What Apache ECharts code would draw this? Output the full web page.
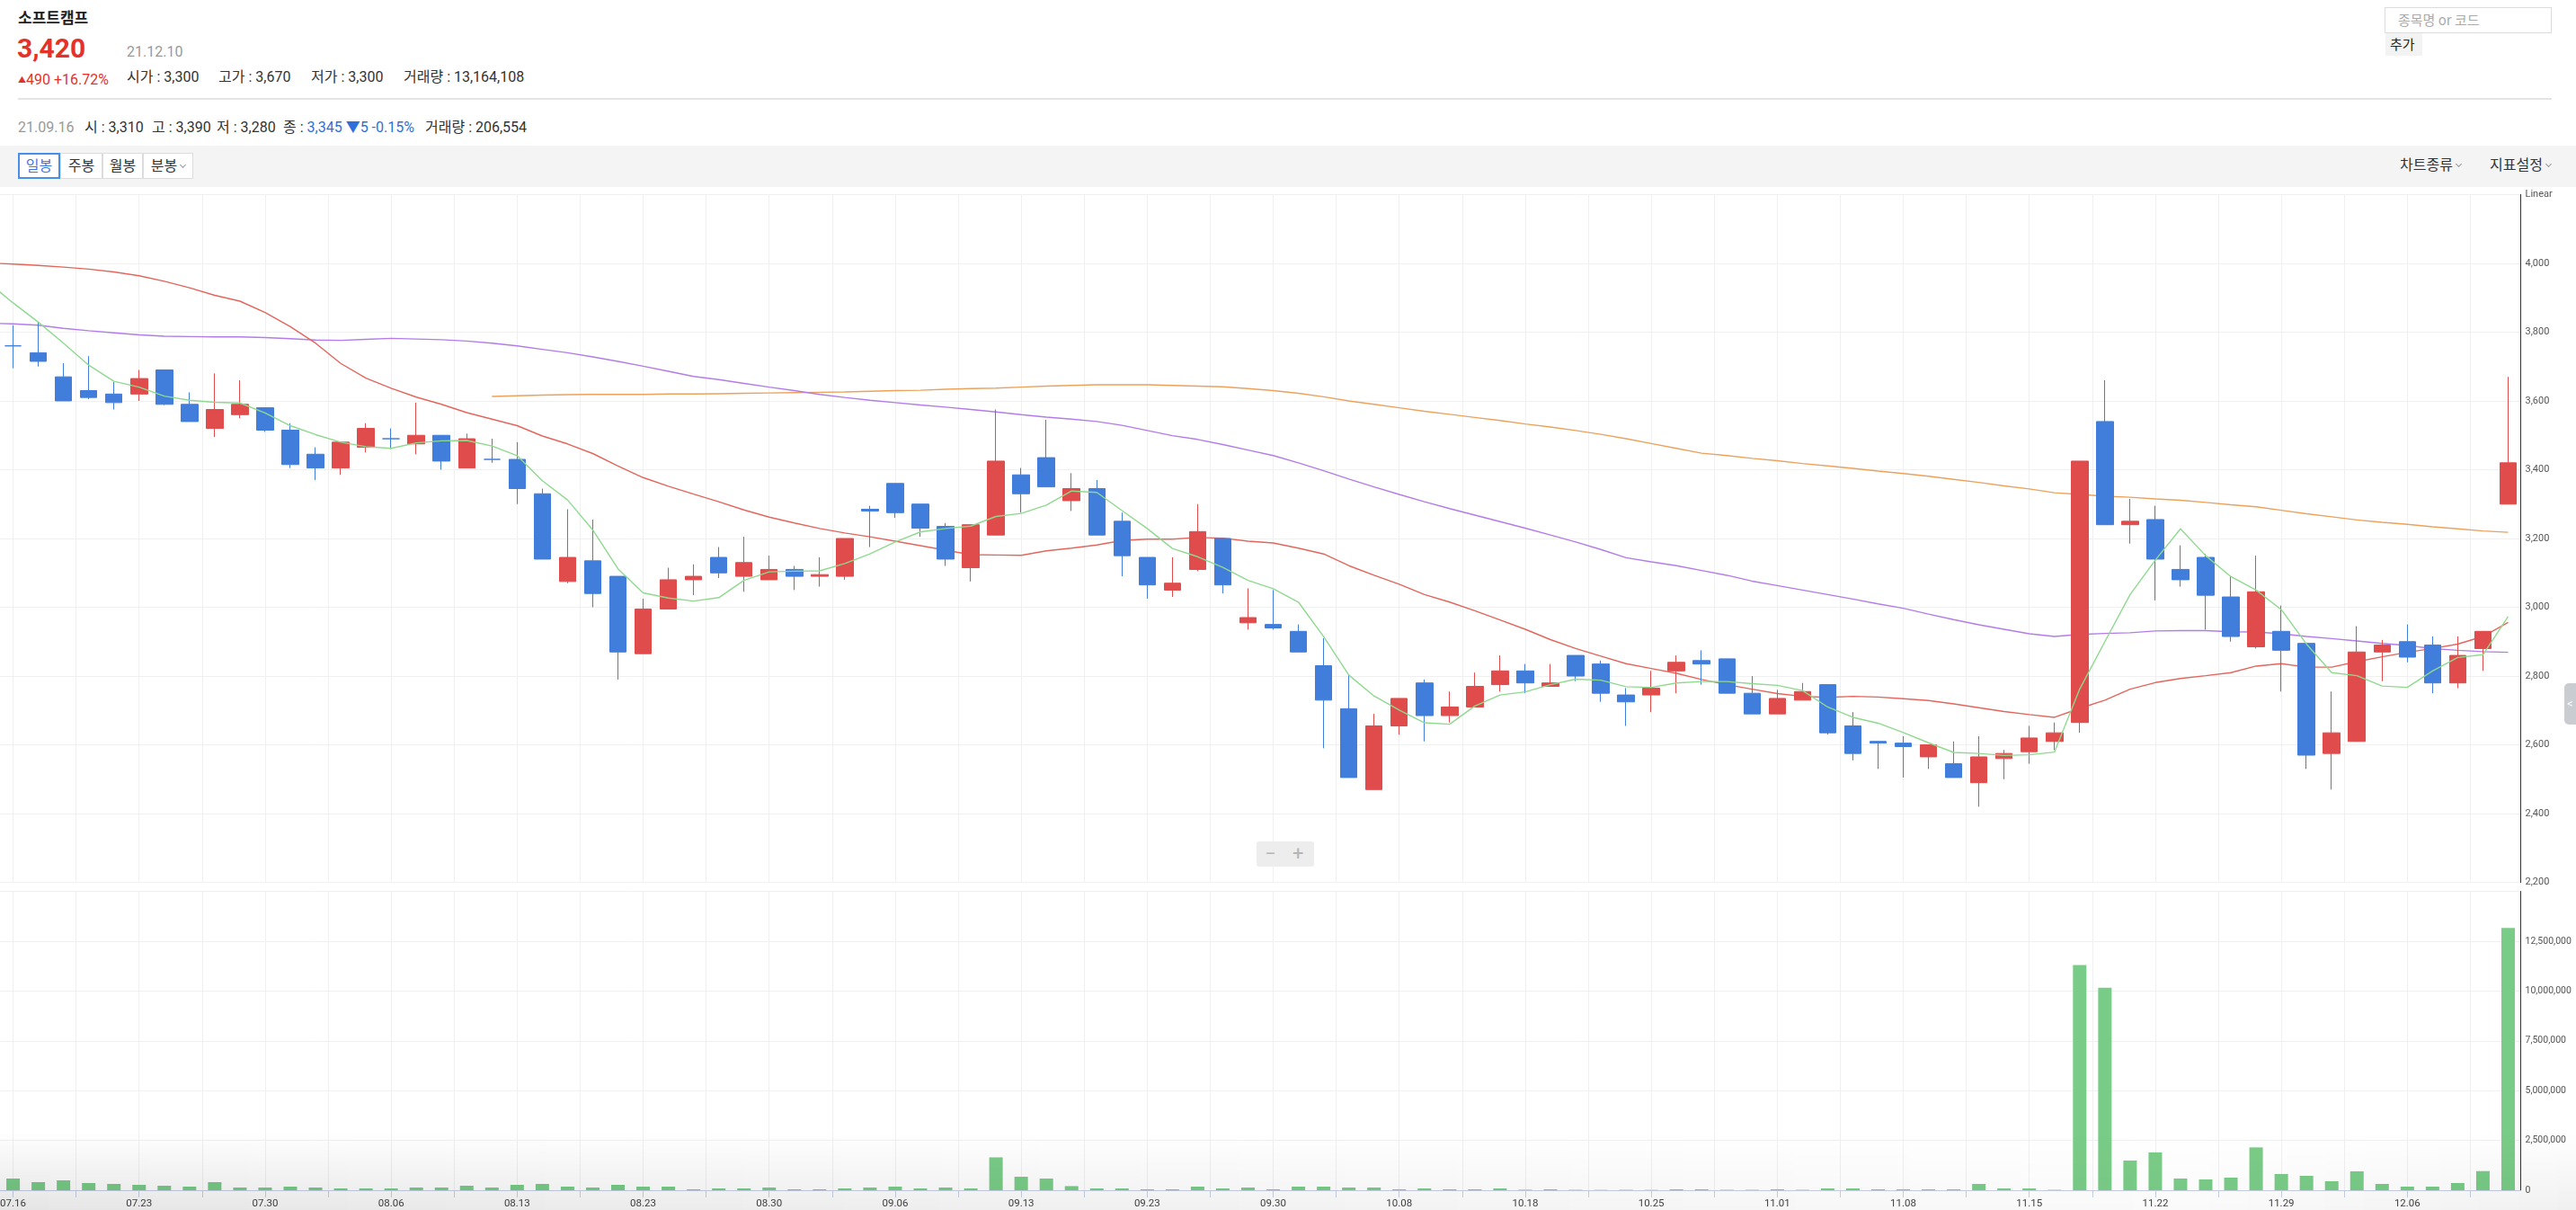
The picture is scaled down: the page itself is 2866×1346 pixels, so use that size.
<!DOCTYPE html>
<html><head><meta charset="utf-8">
<script src="https://cdn.jsdelivr.net/npm/echarts@6/dist/echarts.min.js"></script>
<style>
html,body{margin:0;padding:0;background:#fff;width:2866px;height:1346px;overflow:hidden;font-family:Roboto,"Noto Sans CJK KR",sans-serif;color:#333;}
.a{position:absolute;white-space:nowrap;line-height:1;}
#chart{position:absolute;left:0;top:0;width:2866px;height:1346px;z-index:2;}
.kr{font-family:"Noto Sans CJK KR",Roboto,sans-serif;}
.btn{position:absolute;top:170px;height:29px;box-sizing:border-box;background:#fff;border:1px solid #dcdcdc;font-size:16px;line-height:27px;text-align:center;color:#333;}
.chev{display:inline-block;width:4px;height:4px;border-right:1px solid #999;border-bottom:1px solid #999;transform:rotate(45deg);margin-left:4px;position:relative;top:-4px;}
</style></head><body>

<div class="a kr" style="left:20px;top:10px;font-size:17px;font-weight:700;color:#222;">소프트캠프</div>
<div class="a" style="left:19px;top:39px;font-size:30px;font-weight:700;color:#e4312b;">3,420</div>
<div class="a" style="left:141px;top:50px;font-size:16px;color:#999;">21.12.10</div>
<div class="a" style="left:20px;top:81px;font-size:16px;color:#e4312b;"><span style="font-size:9px;position:relative;top:-2px;">▲</span>490 +16.72%</div>
<div class="a" style="left:141px;top:78px;font-size:16px;">시가 : 3,300</div>
<div class="a" style="left:243px;top:78px;font-size:16px;">고가 : 3,670</div>
<div class="a" style="left:346px;top:78px;font-size:16px;">저가 : 3,300</div>
<div class="a" style="left:449px;top:78px;font-size:16px;">거래량 : 13,164,108</div>
<div style="position:absolute;left:20px;top:109px;width:2819px;height:2px;background:#e4e4e4;"></div>
<div class="a" style="left:20px;top:134px;font-size:16px;color:#999;">21.09.16</div>
<div class="a" style="left:94px;top:134px;font-size:16px;">시 : 3,310</div>
<div class="a" style="left:169px;top:134px;font-size:16px;">고 : 3,390</div>
<div class="a" style="left:241px;top:134px;font-size:16px;">저 : 3,280</div>
<div class="a" style="left:315px;top:134px;font-size:16px;">종 : <span style="color:#2e6fd9;">3,345 ▼5 -0.15%</span></div>
<div class="a" style="left:473px;top:134px;font-size:16px;">거래량 : 206,554</div>

<div style="position:absolute;left:2653px;top:8px;width:186px;height:29px;box-sizing:border-box;border:1px solid #dcdcdc;background:#fff;"></div>
<div class="a kr" style="left:2668px;top:14px;font-size:15px;color:#aaa;">종목명 or 코드</div>
<div style="position:absolute;left:2654px;top:37px;width:41px;height:25px;background:#f3f3f3;"></div>
<div class="a kr" style="left:2659px;top:41px;font-size:15px;color:#222;">추가</div>

<div style="position:absolute;left:0;top:162px;width:2866px;height:46px;background:#f4f4f4;"></div>
<div class="btn" style="left:20px;width:47px;border:2px solid #4a8fe7;color:#3a7be0;line-height:25px;">일봉</div>
<div class="btn" style="left:67px;width:47px;">주봉</div>
<div class="btn" style="left:114px;width:45px;">월봉</div>
<div class="btn" style="left:159px;width:56px;">분봉<span class="chev"></span></div>
<div class="a" style="left:2670px;top:176px;font-size:16px;">차트종류<span class="chev"></span></div>
<div class="a" style="left:2770px;top:176px;font-size:16px;">지표설정<span class="chev"></span></div>

<div id="chart"></div>

<div style="position:absolute;left:1398px;top:936px;width:64px;height:28px;background:#ededed;border-radius:3px;z-index:3;">
  <div class="a" style="left:9px;top:3px;font-size:22px;color:#b5b5b5;">−</div>
  <div class="a" style="left:40px;top:3px;font-size:22px;color:#b5b5b5;">+</div>
</div>
<div style="position:absolute;left:2853px;top:760px;width:13px;height:46px;background:#c9cdd2;border-radius:5px 0 0 5px;z-index:3;">
  <div class="a" style="left:3px;top:16px;font-size:13px;color:#fff;">&lt;</div>
</div>
<div style="position:absolute;left:0;top:1258px;width:2866px;height:88px;z-index:3;pointer-events:none;background:linear-gradient(to right,rgba(0,0,0,0.10),rgba(0,0,0,0.05) 50%,rgba(0,0,0,0.02) 85%,rgba(0,0,0,0.06));-webkit-mask-image:linear-gradient(to bottom,rgba(0,0,0,0),rgba(0,0,0,1));mask-image:linear-gradient(to bottom,rgba(0,0,0,0),rgba(0,0,0,1));"></div>

<script>
// trading days (first one is the off-screen day before the visible range)
const dates = ['07.15','07.16','07.19','07.20','07.21','07.22','07.23','07.26','07.27','07.28','07.29','07.30',
'08.02','08.03','08.04','08.05','08.06','08.09','08.10','08.11','08.12','08.13','08.17','08.18','08.19','08.20','08.23','08.24','08.25','08.26','08.27','08.30','08.31',
'09.01','09.02','09.03','09.06','09.07','09.08','09.09','09.10','09.13','09.14','09.15','09.16','09.17','09.23','09.24','09.27','09.28','09.29','09.30',
'10.01','10.05','10.06','10.07','10.08','10.12','10.13','10.14','10.15','10.18','10.19','10.20','10.21','10.22','10.25','10.26','10.27','10.28','10.29',
'11.01','11.02','11.03','11.04','11.05','11.08','11.09','11.10','11.11','11.12','11.15','11.16','11.17','11.18','11.19','11.22','11.23','11.24','11.25','11.26','11.29','11.30',
'12.01','12.02','12.03','12.06','12.07','12.08','12.09','12.10'];

const openP = [null,3760,3740,3670,3630,3620,3620,3690,3590,3520,3560,3580,3515,3445,3405,3465,3490,3475,3500,3405,3430,
3430,3330,3075,3135,3090,2865,2995,3080,3145,3090,3080,3110,3090,3090,3285,3360,3300,3235,3115,3210,
3385,3435,3310,3345,3250,3145,3050,3110,3200,2955,2950,2930,2830,2705,2470,2655,2780,2685,2710,2775,
2815,2770,2860,2835,2745,2745,2815,2845,2850,2750,2690,2730,2775,2655,2610,2605,2565,2545,2490,2560,
2580,2610,2665,3540,3240,3255,3110,3145,3030,2885,2930,2895,2575,2610,2870,2900,2890,2780,2880,3300];
const highP = [null,3820,3830,3710,3730,3655,3690,3690,3625,3680,3660,3580,3535,3465,3480,3535,3520,3595,3500,3505,3490,
3480,3345,3285,3255,3090,3025,3115,3125,3175,3205,3150,3120,3145,3200,3295,3360,3300,3245,3240,3575,
3405,3545,3390,3370,3275,3145,3145,3300,3200,3055,3050,2950,2910,2805,2690,2735,2790,2755,2810,2860,
2835,2835,2860,2845,2765,2815,2860,2875,2850,2800,2760,2780,2775,2695,2610,2625,2600,2610,2625,2585,
2655,2665,3425,3660,3315,3295,3180,3155,3090,3150,3005,2895,2755,2945,2905,2950,2915,2915,2930,3670];
const lowP = [null,3695,3700,3600,3605,3575,3600,3588,3540,3495,3550,3510,3405,3370,3385,3450,3460,3445,3400,3405,3420,
3300,3140,3070,3000,2790,2865,2995,3035,3085,3045,3080,3050,3060,3080,3175,3260,3205,3120,3075,3210,
3275,3350,3280,3210,3090,3025,3030,3105,3040,2935,2935,2870,2590,2505,2470,2630,2610,2665,2710,2755,
2750,2770,2785,2725,2655,2695,2750,2775,2750,2690,2690,2730,2630,2555,2530,2505,2530,2505,2420,2500,
2545,2585,2635,3240,3185,3020,3060,2935,2900,2880,2755,2530,2470,2610,2785,2840,2750,2765,2815,3300];
const closeP = [null,3760,3715,3600,3610,3595,3665,3590,3540,3575,3590,3515,3415,3405,3480,3520,3490,3500,3425,3490,3430,
3345,3140,3145,3040,2870,2995,3080,3090,3100,3130,3110,3090,3095,3200,3280,3275,3230,3140,3240,3425,
3330,3350,3345,3210,3150,3065,3070,3220,3065,2970,2940,2870,2730,2505,2655,2735,2685,2710,2770,2815,
2780,2780,2800,2750,2725,2765,2840,2835,2750,2690,2735,2755,2635,2575,2605,2595,2600,2505,2565,2575,
2620,2635,3425,3240,3250,3140,3080,3035,2915,3045,2875,2570,2635,2870,2890,2855,2780,2860,2930,3420];
const volume = [null,588000,407000,497000,362000,316000,271000,226000,181000,407000,136000,136000,181000,136000,90000,90000,90000,136000,136000,226000,136000,
271000,316000,181000,136000,271000,181000,181000,45000,90000,90000,136000,45000,45000,90000,136000,181000,90000,136000,90000,1650000,
678000,588000,206554,90000,90000,45000,45000,181000,90000,136000,45000,181000,181000,136000,136000,45000,90000,45000,45000,90000,
25000,45000,20000,15000,20000,15000,45000,45000,20000,20000,45000,20000,90000,90000,45000,45000,45000,45000,316000,90000,
90000,20000,11300000,10170000,1490000,1900000,588000,542000,633000,2150000,814000,723000,452000,949000,316000,181000,181000,362000,960000,13164108];

const ma5 = [3945,3885,3829,3768,3704,3657,3640,3614,3602,3596,3594,3565,3528,3502,3480,3467,3462,3478,3484,3485,3469,
3441,3368,3312,3225,3112,3042,3027,3018,3028,3078,3103,3105,3106,3127,3155,3190,3219,3229,3236,3264,
3273,3297,3338,3334,3281,3229,3171,3147,3116,3078,3054,3015,2915,2803,2742,2701,2664,2660,2713,2745,
2754,2775,2791,2788,2769,2767,2780,2784,2784,2778,2773,2758,2710,2680,2663,2636,2606,2578,2575,2569,
2571,2579,2762,2900,3037,3137,3228,3150,3089,3050,2993,2893,2810,2801,2771,2767,2815,2854,2862,2973];
const ma20 = [4001,3998,3994,3989,3983,3975,3964,3948,3929,3907,3890,3857,3816,3768,3709,3666,3637,3611,3590,3566,3547,
3528,3498,3475,3447,3411,3377,3352,3329,3307,3283,3262,3245,3229,3216,3205,3192,3179,3166,3153,3152,
3151,3164,3172,3181,3194,3198,3198,3203,3201,3192,3187,3172,3155,3121,3093,3067,3037,3015,2990,2963,
2936,2906,2880,2858,2836,2822,2808,2790,2775,2762,2749,2741,2738,2741,2739,2734,2729,2719,2708,2697,
2688,2680,2706,2730,2762,2781,2793,2801,2810,2829,2836,2826,2826,2842,2856,2869,2880,2893,2915,2956];
const ma60 = [3826,3824,3820,3811,3804,3798,3792,3788,3787,3786,3786,3784,3781,3777,3776,3779,3782,3780,3778,3774,3768,
3760,3750,3740,3728,3715,3701,3686,3671,3662,3651,3640,3630,3619,3610,3602,3595,3588,3582,3575,3568,
3560,3553,3547,3540,3529,3514,3499,3488,3473,3457,3441,3420,3397,3373,3350,3328,3307,3287,3268,3249,
3230,3210,3190,3168,3144,3132,3121,3107,3093,3076,3063,3050,3037,3024,3010,2997,2980,2964,2949,2936,
2923,2915,2921,2924,2926,2931,2932,2932,2929,2928,2923,2915,2909,2902,2895,2889,2880,2875,2871,2869];
const ma120 = [null,null,null,null,null,null,null,null,null,null,null,null,null,null,null,null,null,null,null,null,3613,
3615,3617,3618,3619,3619,3619,3620,3620,3621,3622,3623,3624,3625,3626,3628,3630,3631,3634,3636,3637,
3640,3643,3645,3647,3647,3647,3645,3643,3641,3636,3630,3622,3612,3600,3590,3580,3570,3561,3552,3543,
3533,3524,3514,3503,3490,3476,3462,3448,3441,3433,3426,3418,3411,3404,3396,3389,3381,3372,3363,3353,
3344,3333,3328,3323,3320,3315,3311,3305,3298,3292,3282,3272,3263,3254,3247,3241,3234,3228,3222,3218];

const priceTicks = {min:2200, max:4200, step:200};
const volTicks = {min:0, max:15000000, step:2500000};

const UP = '#e04b4b', DOWN = '#417ddb';
const LBL = "Roboto, sans-serif";
const toDash = v => (v == null ? '-' : v);
const candleData = dates.map((d, i) => openP[i] == null ? '-' : [openP[i], closeP[i], lowP[i], highP[i]]);

const chart = echarts.init(document.getElementById('chart'), null, {renderer: 'canvas'});
const gridLine = {show: true, lineStyle: {color: '#f0f0f0', width: 1}};
const fmt = v => v.toLocaleString('en-US');
const G = {outerBoundsMode: 'none', containLabel: false};

chart.setOption({
  animation: false,
  backgroundColor: 'transparent',
  grid: [
    Object.assign({left: -27.5, width: 2832, top: 216.4, height: 765.2}, G),
    Object.assign({left: -27.5, width: 2832, top: 991.6, height: 332.4}, G),
    Object.assign({left: -55.6, width: 2804, top: 216.4, height: 765.2}, G),
    Object.assign({left: -55.6, width: 2804, top: 991.6, height: 332.4}, G)
  ],
  xAxis: [
    {type: 'category', gridIndex: 0, data: dates, boundaryGap: true, axisLine: {show: false}, axisTick: {show: false}, axisLabel: {show: false}, splitLine: {show: false}},
    {type: 'category', gridIndex: 1, data: dates, boundaryGap: true,
      axisLine: {show: true, lineStyle: {color: '#c7d0e6', width: 1}}, axisTick: {show: false},
      axisLabel: {show: true, interval: (idx) => idx > 0 && (idx - 1) % 5 === 0, color: '#444', fontSize: 11.5, fontFamily: LBL, margin: 9},
      splitLine: {show: false}},
    {type: 'value', gridIndex: 2, min: -2.5, max: 97.5, interval: 2.5, axisLine: {show: false}, axisTick: {show: false}, axisLabel: {show: false}, splitLine: gridLine},
    {type: 'value', gridIndex: 3, min: -2.5, max: 97.5, interval: 2.5, axisLine: {show: false},
      axisTick: {show: true, length: 8, lineStyle: {color: '#c7d0e6'}}, axisLabel: {show: false}, splitLine: gridLine}
  ],
  yAxis: [
    {type: 'value', gridIndex: 0, position: 'right', min: priceTicks.min, max: priceTicks.max, interval: priceTicks.step,
      axisLine: {show: true, lineStyle: {color: '#333', width: 1}}, axisTick: {show: false},
      axisLabel: {showMinLabel: true, showMaxLabel: true, color: '#555', fontSize: 11, fontFamily: LBL, margin: 5,
        formatter: v => v === priceTicks.max ? 'Linear' : fmt(v)},
      splitLine: gridLine},
    {type: 'value', gridIndex: 1, position: 'right', min: volTicks.min, max: volTicks.max, interval: volTicks.step,
      axisLine: {show: true, lineStyle: {color: '#333', width: 1}}, axisTick: {show: false},
      axisLabel: {showMinLabel: true, showMaxLabel: true, color: '#555', fontSize: 10.5, fontFamily: LBL, margin: 5,
        formatter: v => v === volTicks.max ? '' : fmt(v)},
      splitLine: gridLine},
    {type: 'value', gridIndex: 2, min: 0, max: 1, show: false},
    {type: 'value', gridIndex: 3, min: 0, max: 1, show: false}
  ],
  series: [
    {type: 'line', name: 'MA120', xAxisIndex: 0, yAxisIndex: 0, data: ma120.map(toDash), showSymbol: false, symbol: 'none', lineStyle: {color: '#eba25c', width: 1.4}, z: 3},
    {type: 'line', name: 'MA60', xAxisIndex: 0, yAxisIndex: 0, data: ma60.map(toDash), showSymbol: false, symbol: 'none', lineStyle: {color: '#b27ce9', width: 1.4}, z: 3},
    {type: 'line', name: 'MA20', xAxisIndex: 0, yAxisIndex: 0, data: ma20.map(toDash), showSymbol: false, symbol: 'none', lineStyle: {color: '#e3665c', width: 1.4}, z: 3},
    {type: 'candlestick', name: 'price', xAxisIndex: 0, yAxisIndex: 0, data: candleData, barWidth: 19,
      itemStyle: {color: UP, color0: DOWN, borderColor: UP, borderColor0: DOWN, borderWidth: 1}, z: 4},
    {type: 'line', name: 'MA5', xAxisIndex: 0, yAxisIndex: 0, data: ma5.map(toDash), showSymbol: false, symbol: 'none', lineStyle: {color: '#8fd98f', width: 1.4}, z: 5},
    {type: 'bar', name: 'volume', xAxisIndex: 1, yAxisIndex: 1, data: volume.map(toDash), barWidth: 15, itemStyle: {color: '#79cc87'}}
  ]
});
</script>
</body></html>
